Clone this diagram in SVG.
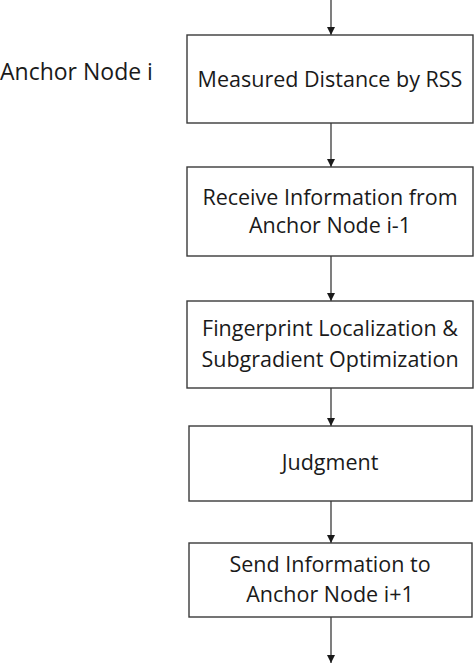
<svg xmlns="http://www.w3.org/2000/svg" width="474" height="663" viewBox="0 0 474 663">
<defs>
<marker id="ah" markerWidth="8" markerHeight="8" refX="8" refY="4" orient="auto" markerUnits="userSpaceOnUse">
<path d="M0,0 L8,4 L0,8 Z" fill="#1a1a1a"/>
</marker>
</defs>
<style>
.box{fill:#fff;stroke:#3a3a3a;stroke-width:1.4}
.t{font-family:"Open Sans","Noto Sans",sans-serif;font-size:21.5px;fill:#1a1a1a;text-anchor:middle}
.c{stroke:#3a3a3a;stroke-width:1.3;fill:none;marker-end:url(#ah)}
</style>
<rect width="474" height="663" fill="#fff"/>
<text x="0" y="80" style="font-family:'Open Sans','Noto Sans',sans-serif;font-size:23px;fill:#1a1a1a">Anchor Node i</text>
<g id="connectors">
<line class="c" x1="331" y1="0" x2="331" y2="35"/>
<line class="c" x1="331" y1="123" x2="331" y2="167"/>
<line class="c" x1="331" y1="256" x2="331" y2="301"/>
<line class="c" x1="331" y1="388" x2="331" y2="426"/>
<line class="c" x1="331" y1="501" x2="331" y2="543"/>
<line class="c" x1="331" y1="617" x2="331" y2="663"/>
</g>
<g id="n1"><rect class="box" x="187" y="35" width="286" height="88"/><text class="t" x="330" y="87">Measured Distance by RSS</text></g>
<g id="n2"><rect class="box" x="187" y="167" width="286" height="89"/><text class="t" x="330" y="205">Receive Information from</text><text class="t" x="330" y="233">Anchor Node i-1</text></g>
<g id="n3"><rect class="box" x="187" y="301" width="286" height="87"/><text class="t" x="330" y="336">Fingerprint Localization &amp;</text><text class="t" x="330" y="367">Subgradient Optimization</text></g>
<g id="n4"><rect class="box" x="189" y="426" width="283" height="75"/><text class="t" x="330" y="470">Judgment</text></g>
<g id="n5"><rect class="box" x="189" y="543" width="283" height="74"/><text class="t" x="330" y="572">Send Information to</text><text class="t" x="330" y="602">Anchor Node i+1</text></g>
</svg>
